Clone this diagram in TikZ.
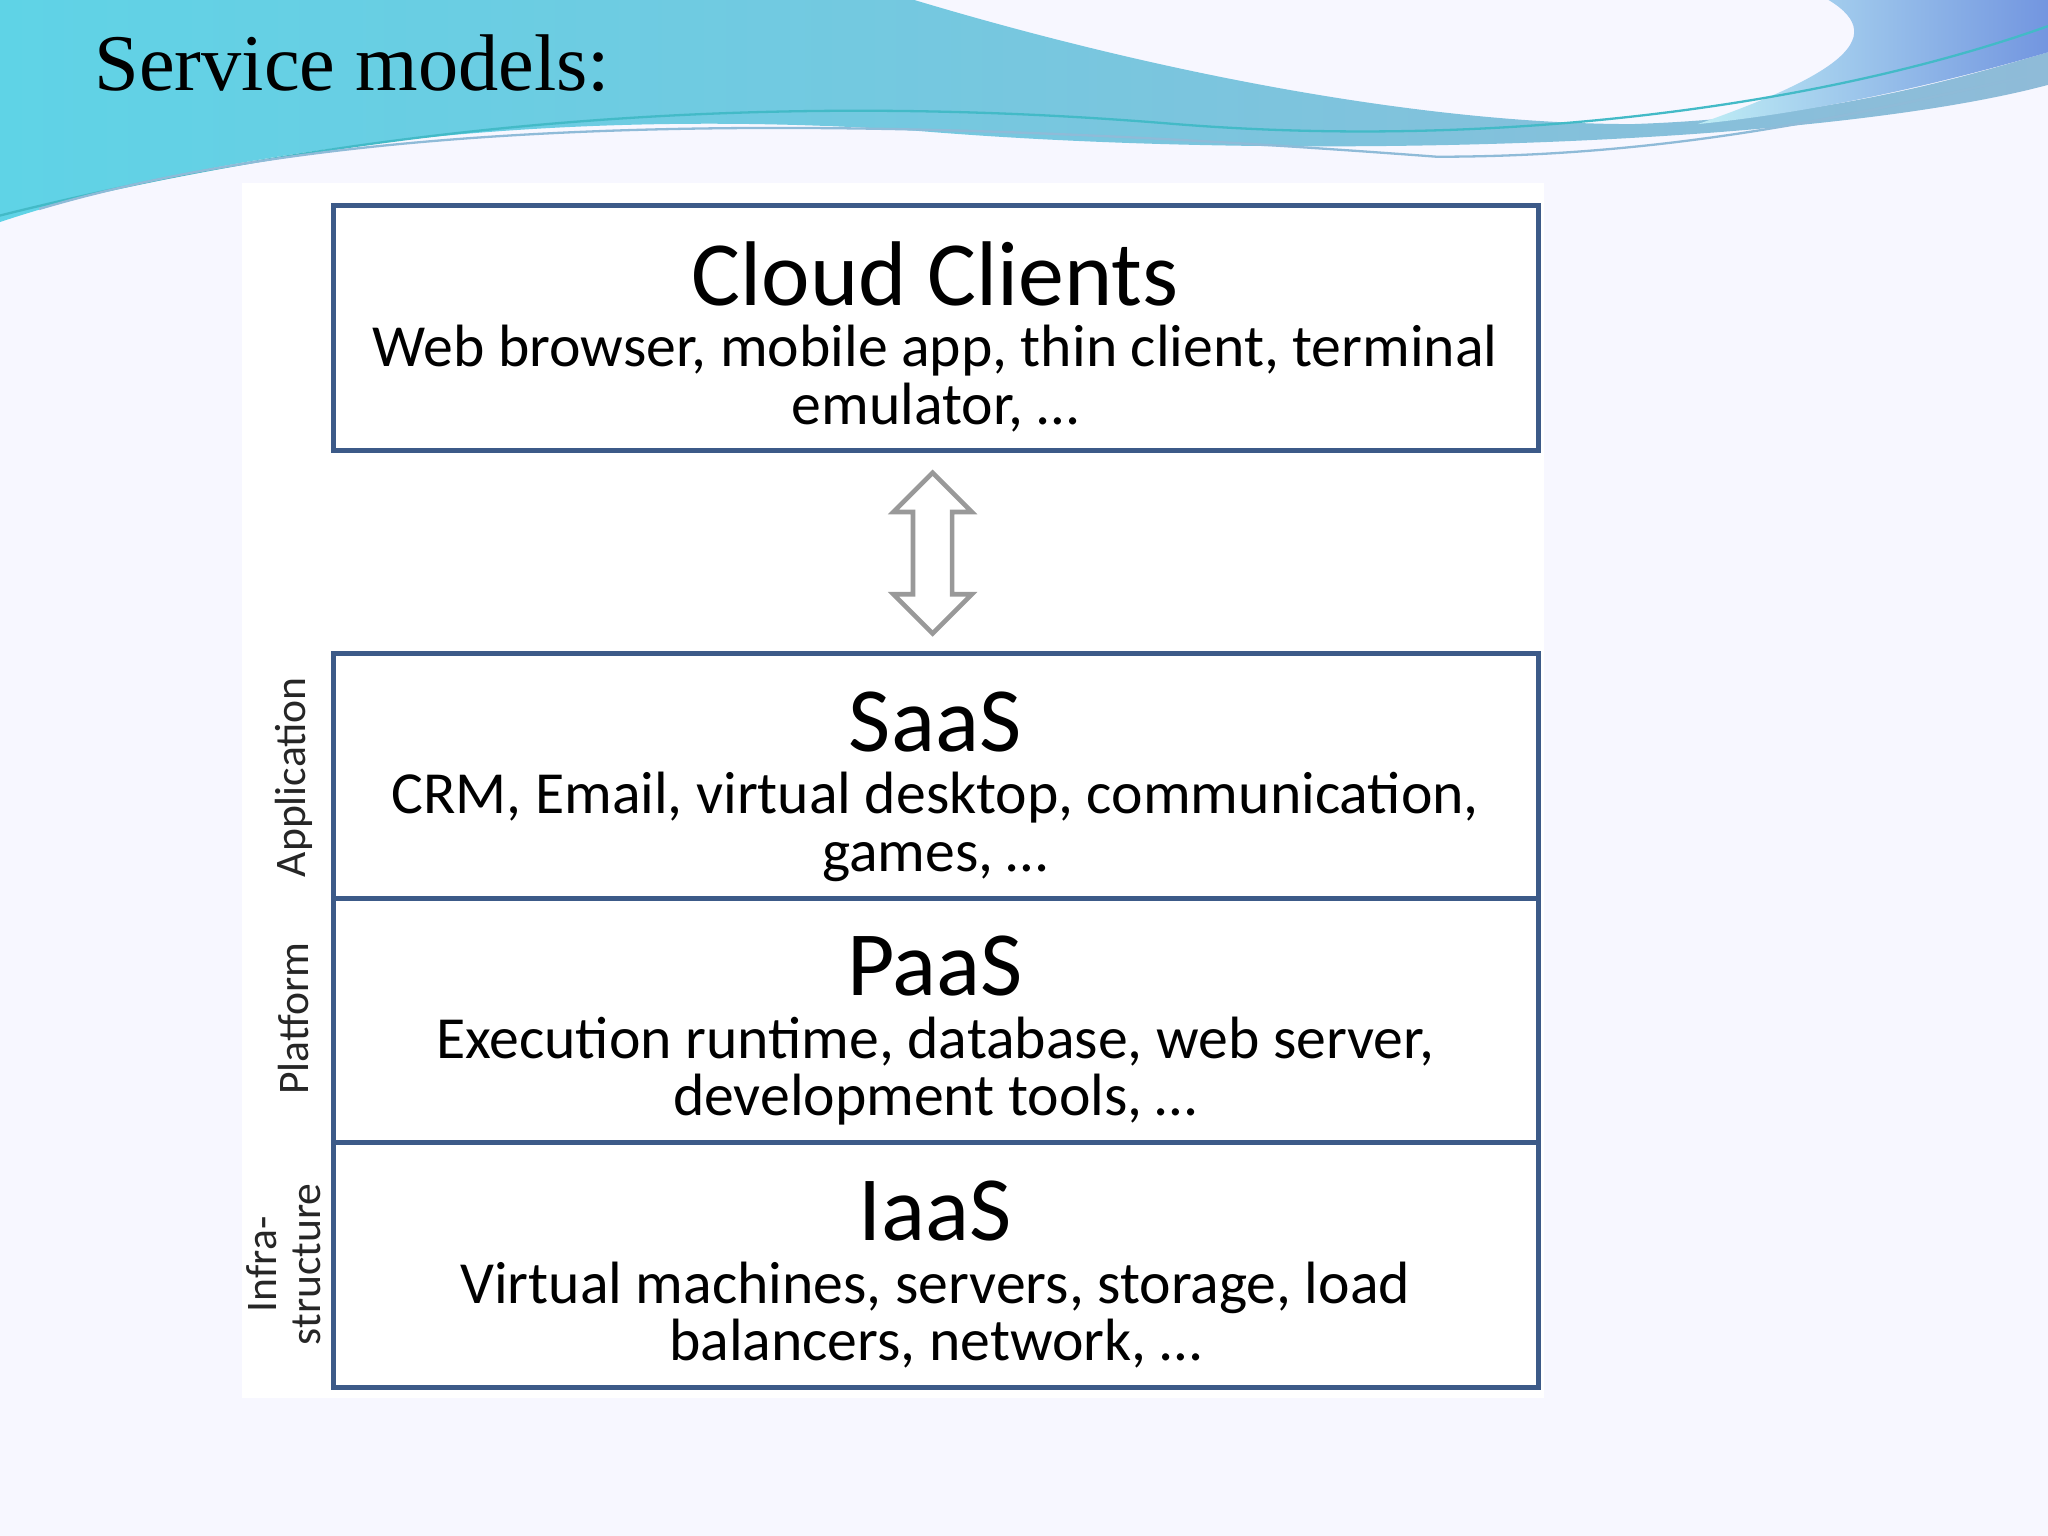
\documentclass[tikz,border=0pt]{standalone}
\usepackage{fontspec}
\setmainfont{Carlito}
\newfontfamily\seriffont{Liberation Serif}
\begin{document}
\begin{tikzpicture}[x=0.01cm,y=-0.01cm,
  head/.style={font=\fontsize{20}{22}\selectfont},
  body/.style={font=\fontsize{13}{12.5}\selectfont,align=center},
  side/.style={rotate=90,font=\fontsize{9.5}{9.5}\selectfont,align=center,text=black!85}]
\definecolor{boxblue}{HTML}{3C5A88}
\definecolor{swA}{HTML}{5FD3E6}
\definecolor{swB}{HTML}{8FBBD8}
\useasboundingbox (0,0) rectangle (1568,1176);
\fill[white!97!blue] (0,0) rectangle (1568,1176);
% swooshes
\shade[left color=swA,right color=swB] (0,0) -- (700,0) .. controls (900,60) and (1100,95) .. (1250,95)
  .. controls (1400,90) and (1500,60) .. (1568,40) -- (1568,65)
  .. controls (1400,110) and (1000,125) .. (700,100) .. controls (400,80) and (150,120) .. (0,170) -- cycle;
\shade[left color=white!60!swA,right color=swB!80!blue] (1400,0) -- (1568,0) -- (1568,40) .. controls (1500,60) and (1400,85) .. (1300,95) .. controls (1400,60) and (1450,30) .. (1400,0);
\draw[swA!70!teal,line width=0.5pt] (0,165) .. controls (300,90) and (600,70) .. (900,95) .. controls (1150,115) and (1400,80) .. (1568,20);
\draw[swB,line width=0.5pt] (30,160) .. controls (300,80) and (700,90) .. (1100,120) .. controls (1300,120) and (1450,80) .. (1568,55);
\node[anchor=west,font=\seriffont\fontsize{17.5}{18}\selectfont] (title) at (60,48) {Service models:};
% diagram
\fill[white] (185,140) rectangle (1182,1070);
\draw[boxblue,line width=1.1pt] (255,157) rectangle (1178,345);
\node[head] (cc) at (716,210) {Cloud Clients};
\node[body] (ccb) at (716,290) {Web browser, mobile app, thin client, terminal\\emulator, \dots};
\draw[boxblue,line width=1.1pt] (255,500) rectangle (1178,688);
\draw[boxblue,line width=1.1pt] (255,688) rectangle (1178,875);
\draw[boxblue,line width=1.1pt] (255,875) rectangle (1178,1062);
\node[head] (saas) at (716,553) {SaaS};
\node[body] (saasb) at (716,633) {CRM, Email, virtual desktop, communication,\\games, \dots};
\node[head] (paas) at (716,740) {PaaS};
\node[body] (paasb) at (716,820) {Execution runtime, database, web server,\\development tools, \dots};
\node[head] (iaas) at (716,927) {IaaS};
\node[body] (iaasb) at (716,1007) {Virtual machines, servers, storage, load\\balancers, network, \dots};
\node[side] (app) at (225,595) {Application};
\node[side] (plat) at (225,780) {Platform};
\node[side] (infra) at (217,968) {Infra-\\structure};
% hollow double arrow
\draw[gray!80,fill=white,line width=1pt,line join=miter]
 (714,362) -- (744,392) -- (729,392) -- (729,455) -- (744,455) -- (714,485)
 -- (684,455) -- (699,455) -- (699,392) -- (684,392) -- cycle;
\end{tikzpicture}
\end{document}
